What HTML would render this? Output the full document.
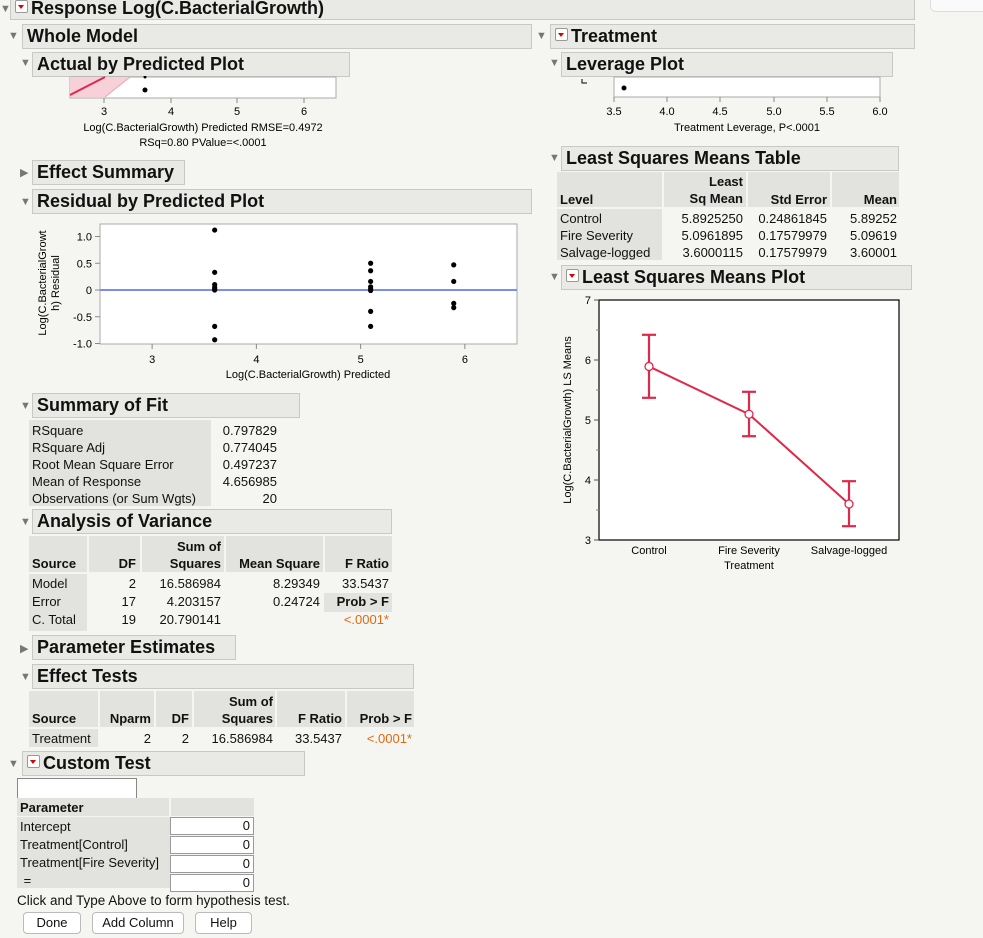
<!DOCTYPE html>
<html><head><meta charset="utf-8"><style>
body{margin:0;width:983px;height:938px;background:#f5f5f1;font-family:"Liberation Sans",sans-serif;position:relative;overflow:hidden;color:#111}
.a{position:absolute}
.hd{position:absolute;background:#e9e9e5;border:1px solid #c8c8c4;font-weight:bold;font-size:18px;line-height:22px;padding-left:4px;box-sizing:border-box;height:25px}
.tri{position:absolute;font-size:11px;color:#777}
.dd{display:inline-block;width:11px;height:11px;border:1px solid #999;border-radius:2px;background:#fff;vertical-align:1px;margin-right:3px;position:relative}
.dd:after{content:"";position:absolute;left:2px;top:3.5px;border-left:3.5px solid transparent;border-right:3.5px solid transparent;border-top:4px solid #d00}
.t{position:absolute;font-size:13px;line-height:17px;white-space:nowrap}
.r{text-align:right}
.b{font-weight:bold}
.g{position:absolute;background:#e2e2de}
.w{position:absolute;background:#f5f5f1;width:2px}
.or{color:#e06a10}
.btn{position:absolute;background:#fff;border:1px solid #bbb;border-radius:4px;font-size:13px;text-align:center;line-height:20px;height:20px}
svg text{font-family:"Liberation Sans",sans-serif}
</style></head><body>
<div class="a" style="left:930px;top:-6px;width:60px;height:16px;background:#fafafa;border:1px solid #ddd;border-radius:6px"></div>
<div class="tri" style="left:0;top:3px">▼</div>
<div class="hd" style="left:10px;top:-4px;width:905px;height:24px"><span class="dd"></span>Response Log(C.BacterialGrowth)</div>

<div class="tri" style="left:8px;top:30px">▼</div>
<div class="hd" style="left:22px;top:24px;width:510px">Whole Model</div>
<div class="tri" style="left:20px;top:57px">▼</div>
<div class="hd" style="left:32px;top:52px;width:318px">Actual by Predicted Plot</div>

<svg class="a" style="left:0;top:76px" width="540" height="80">
<rect x="70" y="1" width="266" height="21" fill="#fff" stroke="#aaa"/>
<polygon points="70,1 130,1 105,21 70,21" fill="#f8d0d8"/>
<line x1="70" y1="19" x2="105" y2="1" stroke="#e0284a" stroke-width="2"/>
<line x1="105" y1="21" x2="130" y2="1" stroke="#f0a0b0"/>
<circle cx="145" cy="14" r="2.5" fill="#000"/><circle cx="145" cy="1" r="1.5" fill="#000"/>
<g stroke="#888"><line x1="104" y1="22" x2="104" y2="27"/><line x1="171" y1="22" x2="171" y2="27"/><line x1="237" y1="22" x2="237" y2="27"/><line x1="304" y1="22" x2="304" y2="27"/></g>
<g font-size="11" text-anchor="middle"><text x="104" y="39">3</text><text x="171" y="39">4</text><text x="237" y="39">5</text><text x="304" y="39">6</text>
<text x="203" y="55">Log(C.BacterialGrowth) Predicted RMSE=0.4972</text><text x="203" y="70">RSq=0.80 PValue=&lt;.0001</text></g>
</svg>

<div class="tri" style="left:20px;top:166px">▶</div>
<div class="hd" style="left:32px;top:160px;width:153px">Effect Summary</div>
<div class="tri" style="left:20px;top:196px">▼</div>
<div class="hd" style="left:32px;top:189px;width:500px">Residual by Predicted Plot</div>

<svg id="res" class="a" style="left:0;top:215px" width="540" height="170"></svg>

<div class="tri" style="left:20px;top:400px">▼</div>
<div class="hd" style="left:32px;top:393px;width:268px">Summary of Fit</div>
<div class="g" style="left:29px;top:420px;width:182px;height:86px"></div>
<div class="t" style="left:32px;top:422px">RSquare<br>RSquare Adj<br>Root Mean Square Error<br>Mean of Response<br>Observations (or Sum Wgts)</div>
<div class="t r" style="left:200px;width:77px;top:422px">0.797829<br>0.774045<br>0.497237<br>4.656985<br>20</div>

<div class="tri" style="left:20px;top:516px">▼</div>
<div class="hd" style="left:32px;top:509px;width:360px">Analysis of Variance</div>
<div class="g" style="left:29px;top:536px;width:363px;height:36px"></div>
<div class="w" style="left:87px;top:536px;height:36px"></div><div class="w" style="left:140px;top:536px;height:36px"></div><div class="w" style="left:224px;top:536px;height:36px"></div><div class="w" style="left:323px;top:536px;height:36px"></div>
<div class="g" style="left:29px;top:574px;width:58px;height:57px"></div>
<div class="g" style="left:324px;top:593px;width:68px;height:19px"></div>
<div class="t b" style="left:32px;top:555px">Source</div>
<div class="t b r" style="left:88px;width:48px;top:555px">DF</div>
<div class="t b r" style="left:141px;width:80px;top:538px">Sum of<br>Squares</div>
<div class="t b r" style="left:225px;width:95px;top:555px">Mean Square</div>
<div class="t b r" style="left:324px;width:65px;top:555px">F Ratio</div>
<div class="t" style="left:32px;top:575px;line-height:18px">Model<br>Error<br>C. Total</div>
<div class="t r" style="left:88px;width:48px;top:575px;line-height:18px">2<br>17<br>19</div>
<div class="t r" style="left:141px;width:80px;top:575px;line-height:18px">16.586984<br>4.203157<br>20.790141</div>
<div class="t r" style="left:225px;width:95px;top:575px;line-height:18px">8.29349<br>0.24724</div>
<div class="t r" style="left:324px;width:65px;top:575px;line-height:18px">33.5437<br><b>Prob &gt; F</b><br><span class="or">&lt;.0001*</span></div>

<div class="tri" style="left:20px;top:642px">▶</div>
<div class="hd" style="left:32px;top:635px;width:204px">Parameter Estimates</div>
<div class="tri" style="left:20px;top:671px">▼</div>
<div class="hd" style="left:32px;top:664px;width:382px">Effect Tests</div>
<div class="g" style="left:29px;top:691px;width:385px;height:36px"></div>
<div class="w" style="left:98px;top:691px;height:36px"></div><div class="w" style="left:154px;top:691px;height:36px"></div><div class="w" style="left:192px;top:691px;height:36px"></div><div class="w" style="left:275px;top:691px;height:36px"></div><div class="w" style="left:345px;top:691px;height:36px"></div>
<div class="g" style="left:29px;top:729px;width:69px;height:18px"></div>
<div class="t b" style="left:32px;top:710px">Source</div>
<div class="t b r" style="left:99px;width:52px;top:710px">Nparm</div>
<div class="t b r" style="left:155px;width:34px;top:710px">DF</div>
<div class="t b r" style="left:193px;width:80px;top:693px">Sum of<br>Squares</div>
<div class="t b r" style="left:273px;width:69px;top:710px">F Ratio</div>
<div class="t b r" style="left:346px;width:66px;top:710px">Prob &gt; F</div>
<div class="t" style="left:32px;top:730px">Treatment</div>
<div class="t r" style="left:99px;width:52px;top:730px">2</div>
<div class="t r" style="left:155px;width:34px;top:730px">2</div>
<div class="t r" style="left:193px;width:80px;top:730px">16.586984</div>
<div class="t r" style="left:273px;width:69px;top:730px">33.5437</div>
<div class="t r or" style="left:346px;width:66px;top:730px">&lt;.0001*</div>

<div class="tri" style="left:8px;top:758px">▼</div>
<div class="hd" style="left:22px;top:751px;width:283px"><span class="dd"></span>Custom Test</div>
<div class="a" style="left:17px;top:778px;width:118px;height:19px;background:#fff;border:1px solid #888"></div>
<div class="g" style="left:17px;top:798px;width:237px;height:18px"></div>
<div class="w" style="left:169px;top:798px;height:18px"></div>
<div class="g" style="left:17px;top:817px;width:153px;height:71px"></div>
<div class="t b" style="left:20px;top:799px">Parameter</div>
<div class="t" style="left:20px;top:818px;line-height:18px">Intercept<br>Treatment[Control]<br>Treatment[Fire Severity]<br>&nbsp;=</div>
<div class="a" style="left:170px;top:817px;width:84px">
<div class="t r" style="position:relative;height:16px;background:#fff;border:1px solid #999;margin-bottom:1px;padding-right:3px;line-height:16px">0</div>
<div class="t r" style="position:relative;height:16px;background:#fff;border:1px solid #999;margin-bottom:1px;padding-right:3px;line-height:16px">0</div>
<div class="t r" style="position:relative;height:16px;background:#fff;border:1px solid #999;margin-bottom:1px;padding-right:3px;line-height:16px">0</div>
<div class="t r" style="position:relative;height:16px;background:#fff;border:1px solid #999;padding-right:3px;line-height:16px">0</div></div>
<div class="t" style="left:17px;top:892px;font-size:13.5px">Click and Type Above to form hypothesis test.</div>
<div class="btn" style="left:23px;top:912px;width:56px">Done</div>
<div class="btn" style="left:92px;top:912px;width:90px">Add Column</div>
<div class="btn" style="left:195px;top:912px;width:55px">Help</div>

<div class="tri" style="left:536px;top:30px">▼</div>
<div class="hd" style="left:550px;top:24px;width:365px"><span class="dd"></span>Treatment</div>
<div class="tri" style="left:549px;top:57px">▼</div>
<div class="hd" style="left:561px;top:52px;width:332px">Leverage Plot</div>
<svg class="a" style="left:555px;top:76px" width="400" height="60">
<rect x="59" y="1" width="266" height="20" fill="#fff" stroke="#aaa"/>
<circle cx="69" cy="12" r="2.5" fill="#000"/>
<path d="M27 3 V7 H32" stroke="#000" fill="none"/>
<g stroke="#888"><line x1="59" y1="21" x2="59" y2="26"/><line x1="112" y1="21" x2="112" y2="26"/><line x1="165" y1="21" x2="165" y2="26"/><line x1="219" y1="21" x2="219" y2="26"/><line x1="272" y1="21" x2="272" y2="26"/><line x1="325" y1="21" x2="325" y2="26"/></g>
<g font-size="11" text-anchor="middle"><text x="59" y="39">3.5</text><text x="112" y="39">4.0</text><text x="165" y="39">4.5</text><text x="219" y="39">5.0</text><text x="272" y="39">5.5</text><text x="325" y="39">6.0</text>
<text x="192" y="55">Treatment Leverage, P&lt;.0001</text></g></svg>

<div class="tri" style="left:549px;top:152px">▼</div>
<div class="hd" style="left:561px;top:146px;width:338px">Least Squares Means Table</div>
<div class="g" style="left:557px;top:172px;width:342px;height:35px"></div>
<div class="w" style="left:662px;top:172px;height:35px"></div><div class="w" style="left:746px;top:172px;height:35px"></div><div class="w" style="left:830px;top:172px;height:35px"></div>
<div class="g" style="left:557px;top:209px;width:105px;height:51px"></div>
<div class="t b" style="left:560px;top:191px">Level</div>
<div class="t b r" style="left:663px;width:80px;top:173px">Least<br>Sq Mean</div>
<div class="t b r" style="left:747px;width:80px;top:191px">Std Error</div>
<div class="t b r" style="left:831px;width:66px;top:191px">Mean</div>
<div class="t" style="left:560px;top:210px">Control<br>Fire Severity<br>Salvage-logged</div>
<div class="t r" style="left:663px;width:80px;top:210px">5.8925250<br>5.0961895<br>3.6000115</div>
<div class="t r" style="left:747px;width:80px;top:210px">0.24861845<br>0.17579979<br>0.17579979</div>
<div class="t r" style="left:831px;width:66px;top:210px">5.89252<br>5.09619<br>3.60001</div>

<div class="tri" style="left:549px;top:271px">▼</div>
<div class="hd" style="left:561px;top:265px;width:351px"><span class="dd"></span>Least Squares Means Plot</div>
<svg id="lsm" class="a" style="left:555px;top:290px" width="380" height="290"></svg>

<script>
// Residual plot data
const resGroups=[3.6,5.096,5.893];
const resValues=[[1.12,0.33,0.1,0.05,0.02,0.0,-0.68,-0.93],[0.5,0.36,0.16,0.06,0.02,-0.01,-0.4,-0.68],[0.47,0.16,-0.25,-0.33]];
const resXTicks=[3,4,5,6];
const resYTicks=[1.0,0.5,0,-0.5,-1.0];
const resYTickLabels=["1.0","0.5","0","-0.5","-1.0"];
// LS means plot data
const lsmCats=["Control","Fire Severity","Salvage-logged"];
const lsmMeans=[5.8925,5.0962,3.6000];
const lsmUpper=[6.42,5.47,3.98];
const lsmLower=[5.37,4.73,3.23];
const lsmYTicks=[3,4,5,6,7];

const NS="http://www.w3.org/2000/svg";
function mk(p,tag,at,txt){const e=document.createElementNS(NS,tag);for(const k in at)e.setAttribute(k,at[k]);if(txt!=null)e.textContent=txt;p.appendChild(e);return e;}

(function(){
const s=document.getElementById('res');
const L=100,R=517,T=9,B=129;
const xs=v=>L+(v-2.5)*(R-L)/4.0;
const ys=v=>75-v*53.5;
mk(s,'rect',{x:L,y:T,width:R-L,height:B-T,fill:'#fff',stroke:'#aaa'});
for(let i=0;i<resXTicks.length;i++){const x=xs(resXTicks[i]);mk(s,'line',{x1:x,y1:B,x2:x,y2:B+5,stroke:'#888'});
const t=mk(s,'text',{x:x,y:B+19,'font-size':11,'text-anchor':'middle'},String(resXTicks[i]));}
for(let i=0;i<resYTicks.length;i++){const y=ys(resYTicks[i]);mk(s,'line',{x1:L-5,y1:y,x2:L,y2:y,stroke:'#888'});
const t=mk(s,'text',{x:L-8,y:y+4,'font-size':11,'text-anchor':'end'},resYTickLabels[i]);}
const zl=mk(s,'line',{x1:L,y1:ys(0),x2:R,y2:ys(0),stroke:'#7b8cf5','stroke-width':2});


for(let g=0;g<resGroups.length;g++)for(const v of resValues[g]){
const c=mk(s,'circle',{cx:xs(resGroups[g]),cy:ys(v),r:2.6,fill:'#000'});

}
mk(s,'text',{x:308,y:163,'font-size':11,'text-anchor':'middle'},'Log(C.BacterialGrowth) Predicted');
mk(s,'text',{transform:'translate(46,68) rotate(-90)','font-size':11,'text-anchor':'middle'},'Log(C.BacterialGrowt');
mk(s,'text',{transform:'translate(59,68) rotate(-90)','font-size':11,'text-anchor':'middle'},'h) Residual');
})();

(function(){
const s=document.getElementById('lsm');
const L=44,R=344,T=10,B=250;
const ys=v=>B-(v-3)*(B-T)/4;
const xs=i=>L+(i+0.5)*(R-L)/3;
mk(s,'rect',{x:L,y:T,width:R-L,height:B-T,fill:'#fff',stroke:'#000','stroke-width':1.2});
for(const v of lsmYTicks){const y=ys(v);mk(s,'line',{x1:L-5,y1:y,x2:L,y2:y,stroke:'#555'});
const t=mk(s,'text',{x:L-8,y:y+4,'font-size':11,'text-anchor':'end'},String(v));}
for(let v=3.5;v<7;v+=1){mk(s,'line',{x1:L-3,y1:ys(v),x2:L,y2:ys(v),stroke:'#888'});}
for(let i=0;i<lsmCats.length;i++){const t=mk(s,'text',{x:xs(i),y:B+14,'font-size':11,'text-anchor':'middle'},lsmCats[i]);}
mk(s,'text',{x:xs(1),y:B+29,'font-size':11,'text-anchor':'middle'},'Treatment');
mk(s,'text',{transform:'translate(16,130) rotate(-90)','font-size':11,'text-anchor':'middle'},'Log(C.BacterialGrowth) LS Means');
const pts=lsmMeans.map((v,i)=>xs(i)+','+ys(v)).join(' ');
const pl=mk(s,'polyline',{points:pts,fill:'none',stroke:'#e0284a','stroke-width':2});


for(let i=0;i<lsmMeans.length;i++){const x=xs(i);
const g=mk(s,'g',{stroke:'#e0284a','stroke-width':2.2,fill:'none'});


mk(g,'line',{x1:x,y1:ys(lsmUpper[i]),x2:x,y2:ys(lsmLower[i])});
mk(g,'line',{x1:x-7,y1:ys(lsmUpper[i]),x2:x+7,y2:ys(lsmUpper[i])});
mk(g,'line',{x1:x-7,y1:ys(lsmLower[i]),x2:x+7,y2:ys(lsmLower[i])});
const c=mk(s,'circle',{cx:x,cy:ys(lsmMeans[i]),r:4,fill:'#fff',stroke:'#e0284a','stroke-width':1.3});

}
})();
</script>
</body></html>
